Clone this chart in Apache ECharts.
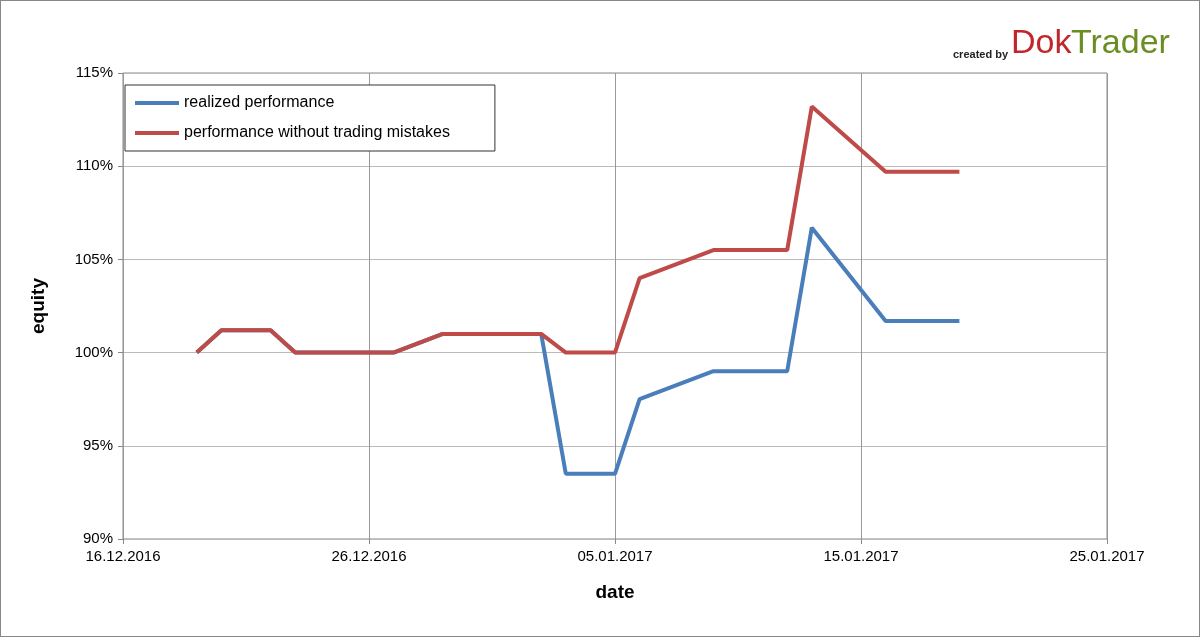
<!DOCTYPE html>
<html><head><meta charset="utf-8">
<script src="https://cdn.jsdelivr.net/npm/echarts@6/dist/echarts.min.js"></script>
<style>html,body{margin:0;padding:0;background:#fff}#c{width:1200px;height:637px;box-sizing:border-box;border:1px solid #888}</style>
</head><body><div id="c"></div>
<script>
const dates = ['19.12.2016','20.12.2016','22.12.2016','23.12.2016','27.12.2016','29.12.2016','02.01.2017','03.01.2017','05.01.2017','06.01.2017','09.01.2017','12.01.2017','13.01.2017','16.01.2017','19.01.2017'];
const realized = [100,101.2,101.2,100,100,101.0,101.0,93.5,93.5,97.5,99.0,99.0,106.7,101.7,101.7];
const noMistakes = [100,101.2,101.2,100,100,101.0,101.0,100,100,104.0,105.5,105.5,113.2,109.7,109.7];
const xTickLabels = ['16.12.2016','26.12.2016','05.01.2017','15.01.2017','25.01.2017'];

const base = Date.UTC(2016,11,16);
const DAY = 86400000;
function toDay(s){const [d,m,y]=s.split('.').map(Number);return Math.round((Date.UTC(y,m-1,d)-base)/DAY);}
const xs = dates.map(toDay);
const ch = echarts.init(document.getElementById('c'));
const font = 'Liberation Sans, Arial, sans-serif';
ch.setOption({
  animation:false,
  textStyle:{fontFamily:font},
  grid:{left:122,right:92,top:72,bottom:97,show:true,borderColor:'#888',borderWidth:1},
  legend:{orient:'vertical',left:124,top:84,padding:[10,45,10,10],itemGap:14,
    itemWidth:44,itemHeight:4,backgroundColor:'#fff',borderColor:'#333',borderWidth:1,
    textStyle:{fontSize:16,color:'#000',fontFamily:font},
    data:[{name:'realized performance',icon:'rect'},{name:'performance without trading mistakes',icon:'rect'}]},
  xAxis:{type:'value',min:0,max:40,interval:10,name:'date',nameLocation:'middle',nameGap:44,
    nameTextStyle:{fontSize:19,fontWeight:'bold',color:'#000'},
    axisLine:{show:false},axisTick:{show:true,length:5,lineStyle:{color:'#888'}},
    splitLine:{show:true,lineStyle:{color:'#999'}},
    axisLabel:{fontSize:15,color:'#000',margin:10,formatter:v=>xTickLabels[v/10]}},
  yAxis:{type:'value',min:90,max:115,interval:5,name:'equity',nameLocation:'middle',nameGap:75,nameRotate:90,
    nameTextStyle:{fontSize:19,fontWeight:'bold',color:'#000'},
    axisLine:{show:false},axisTick:{show:true,length:5,lineStyle:{color:'#888'}},
    splitLine:{lineStyle:{color:'#bbb'}},
    axisLabel:{fontSize:15,color:'#000',margin:10,formatter:v=>v+'%'}},
  series:[
    {name:'realized performance',type:'line',data:xs.map((x,i)=>[x,realized[i]]),showSymbol:false,
      color:'#4a7ebb',lineStyle:{width:4,color:'#4a7ebb'}},
    {name:'performance without trading mistakes',type:'line',data:xs.map((x,i)=>[x,noMistakes[i]]),showSymbol:false,
      color:'#be4b48',lineStyle:{width:4,color:'#be4b48'}}
  ],
  graphic:[
    {type:'text',left:952,top:48,style:{text:'created by',fontSize:11,fontWeight:'bold',fill:'#222',fontFamily:font}},
    {type:'text',left:1010,top:26,style:{text:'Dok',fontSize:34,fill:'#c0262a',fontFamily:font}},
    {type:'text',left:1070,top:26,style:{text:'Trader',fontSize:34,fill:'#6b8e23',fontFamily:font}}
  ]
});
</script></body></html>
